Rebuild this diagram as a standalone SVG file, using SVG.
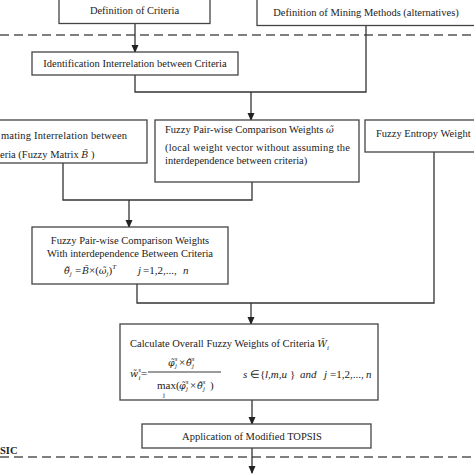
<svg xmlns="http://www.w3.org/2000/svg" width="474" height="474" viewBox="0 0 474 474">
<defs>
<marker id="ah" markerWidth="8" markerHeight="8" refX="7" refY="4" orient="auto" markerUnits="userSpaceOnUse">
<path d="M0,0.5 L8,4 L0,7.5 Z" fill="#222"/>
</marker>
<style>
.box{fill:#fff;stroke:#444;stroke-width:1.3}
.t{font-family:"Liberation Serif","Times New Roman",serif;font-size:10.5px;fill:#222}
.m{font-family:"Liberation Serif","Times New Roman",serif;font-size:11px;fill:#222;font-style:italic}
.g{font-family:"DejaVu Serif",serif;font-style:italic;font-size:9.5px}
.c{text-anchor:middle}
.ln{fill:none;stroke:#333;stroke-width:1.3}
.dash{fill:none;stroke:#555;stroke-width:1.3;stroke-dasharray:9 5}
.sub{font-size:7px}
.up{font-style:normal}
</style>
</defs>
<rect width="474" height="474" fill="#fff"/>
<g id="separators">
<line class="dash" x1="0" y1="35" x2="474" y2="35"/>
<line class="dash" x1="0" y1="457" x2="474" y2="457"/>
<text x="0" y="454" style="font-family:'Liberation Serif',serif;font-size:10.5px;font-weight:bold;fill:#222">SIC</text>
</g>
<g id="connectors">
<line class="ln" x1="135" y1="23.5" x2="135" y2="52" marker-end="url(#ah)"/>
<polyline class="ln" points="135,75 135,92 366,92 366,25.5"/>
<line class="ln" x1="251" y1="92" x2="251" y2="120" marker-end="url(#ah)"/>
<polyline class="ln" points="63,163 63,200 252,200 252,182"/>
<line class="ln" x1="129" y1="200" x2="129" y2="227" marker-end="url(#ah)"/>
<polyline class="ln" points="137,284 137,303 434,303 434,152"/>
<line class="ln" x1="251" y1="303" x2="251" y2="324" marker-end="url(#ah)"/>
<line class="ln" x1="252" y1="400" x2="252" y2="424" marker-end="url(#ah)"/>
<line class="ln" x1="252" y1="448" x2="252" y2="473" marker-end="url(#ah)"/>
</g>
<g id="def-criteria">
<rect class="box" x="59" y="-10" width="151" height="33.5"/>
<text class="t c" x="134.5" y="14">Definition of Criteria</text>
</g>
<g id="def-methods">
<rect class="box" x="257" y="-10" width="225" height="35.5"/>
<text class="t c" x="366" y="15.5">Definition of Mining Methods (alternatives)</text>
</g>
<g id="identification">
<rect class="box" x="32" y="52" width="206" height="23"/>
<text class="t c" x="135" y="67">Identification Interrelation between Criteria</text>
</g>
<g id="estimating">
<rect class="box" x="-5" y="120" width="152" height="43"/>
<text class="t" x="1" y="139" textLength="126" lengthAdjust="spacing">mating Interrelation between</text>
<text class="t" x="0" y="158">eria (Fuzzy Matrix  <tspan class="g" font-size="11">B&#x303;</tspan> )</text>
</g>
<g id="pairwise">
<rect class="box" x="155" y="120" width="204" height="62"/>
<text class="t" x="165" y="133">Fuzzy Pair-wise Comparison Weights  <tspan class="g" font-size="11">&#x3C9;&#x303;</tspan></text>
<text class="t" x="165" y="151" textLength="185" lengthAdjust="spacing">(local weight vector without assuming the</text>
<text class="t" x="165" y="164">interdependence between criteria)</text>
</g>
<g id="entropy">
<rect class="box" x="365" y="120" width="120" height="32"/>
<text class="t" x="376" y="137">Fuzzy Entropy Weight</text>
</g>
<g id="interdependence">
<rect class="box" x="32" y="227" width="196" height="57"/>
<text class="t c" x="130" y="244">Fuzzy Pair-wise Comparison Weights</text>
<text class="t c" x="130" y="257">With interdependence Between Criteria</text>
<text class="m" x="64" y="274"><tspan class="g">&#x3B8;&#x303;</tspan><tspan class="sub" y="276">j</tspan><tspan class="up" x="75" y="274">=</tspan><tspan class="g" x="82">B&#x303;</tspan><tspan class="up">×(</tspan><tspan class="g">&#x3C9;&#x303;</tspan><tspan class="sub" y="276">j</tspan><tspan class="up" y="274">)</tspan><tspan class="sub" y="269">T</tspan><tspan x="138" y="274">j</tspan><tspan class="up" x="143">=1,2,...,</tspan><tspan x="183">n</tspan></text>
</g>
<g id="overall">
<rect class="box" x="120" y="324" width="258" height="76"/>
<text class="t" x="130" y="347">Calculate Overall Fuzzy Weights of Criteria  <tspan class="g" font-size="12">W&#x303;</tspan><tspan class="m sub" y="350">i</tspan></text>
<text class="m" x="130" y="377"><tspan class="g">w&#x303;</tspan><tspan class="sub" y="372">s</tspan><tspan class="sub" dx="-2.5" y="380">i</tspan><tspan class="up" x="141" y="377">=</tspan></text>
<line x1="148" y1="372" x2="221" y2="372" stroke="#222" stroke-width="0.9"/>
<text class="m" x="168" y="366"><tspan class="g">&#x3C6;&#x303;</tspan><tspan class="sub" y="361">s</tspan><tspan class="sub" dx="-2.5" y="368">j</tspan><tspan class="up" x="179" y="366">×</tspan><tspan class="g" x="186">&#x3B8;&#x303;</tspan><tspan class="sub" y="361">s</tspan><tspan class="sub" dx="-2.5" y="368">j</tspan></text>
<text class="m" x="157" y="389"><tspan class="up">max(</tspan><tspan class="sub up" x="163" y="397">j</tspan><tspan class="g" x="179" y="389">&#x3C6;&#x303;</tspan><tspan class="sub" y="384">s</tspan><tspan class="sub" dx="-2.5" y="391">j</tspan><tspan class="up" x="190" y="389">×</tspan><tspan class="g" x="197">&#x3B8;&#x303;</tspan><tspan class="sub" y="384">s</tspan><tspan class="sub" dx="-2.5" y="391">j</tspan><tspan class="up" x="210" y="389">)</tspan></text>
<text class="m" x="243" y="378">s<tspan class="up" x="250">∈</tspan><tspan class="up" x="260">{</tspan><tspan x="265">l,m,u</tspan><tspan class="up" x="290">}</tspan><tspan x="300">and</tspan><tspan x="324">j</tspan><tspan class="up" x="330">=1,2,...,</tspan><tspan x="366">n</tspan></text>
</g>
<g id="topsis">
<rect class="box" x="142" y="424" width="229" height="24"/>
<text class="t c" x="252" y="440">Application of Modified TOPSIS</text>
</g>
</svg>
